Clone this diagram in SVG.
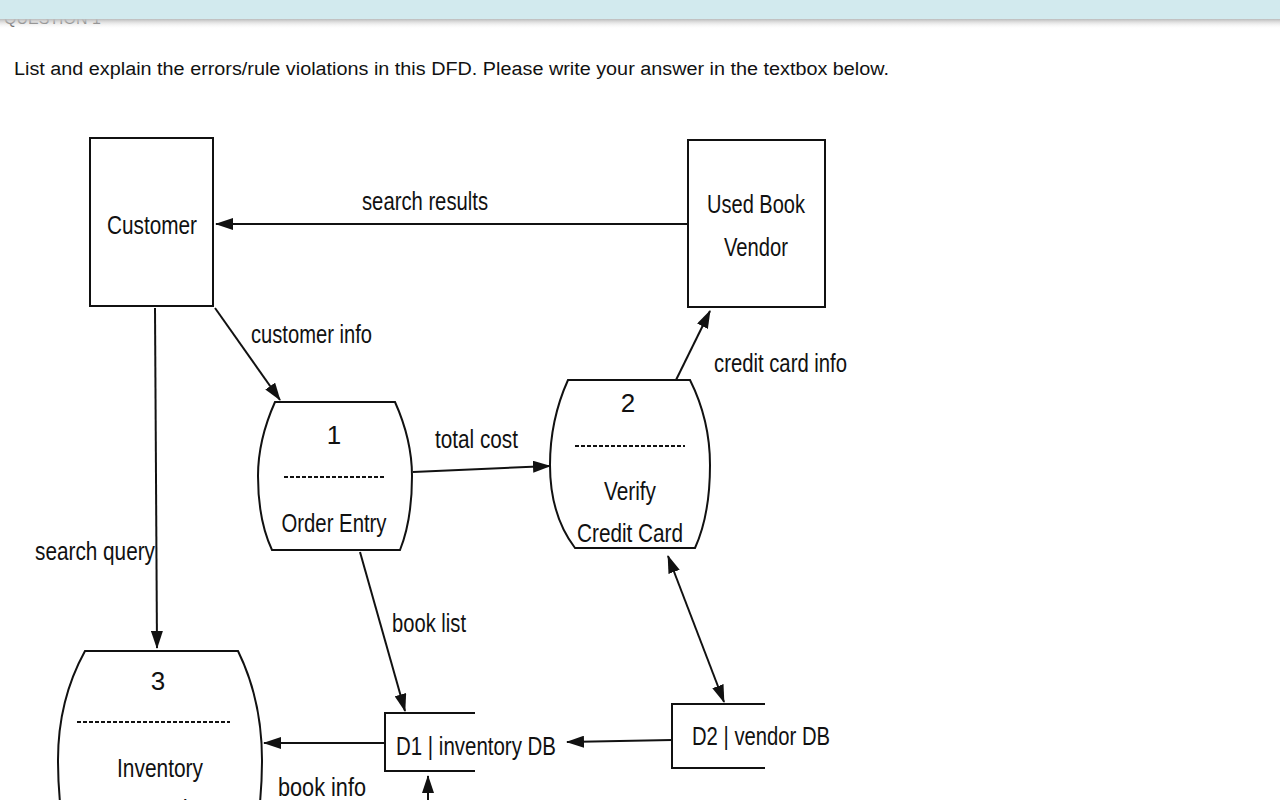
<svg xmlns="http://www.w3.org/2000/svg" width="1280" height="800" viewBox="0 0 1280 800">
<defs>
<marker id="ah" viewBox="0 0 18 12" refX="17" refY="6" markerWidth="18" markerHeight="12" markerUnits="userSpaceOnUse" orient="auto-start-reverse"><path d="M0,0 L18,6 L0,12 Z" fill="#111"/></marker>
<linearGradient id="sh" x1="0" y1="0" x2="0" y2="1"><stop offset="0" stop-color="#bbb"/><stop offset="1" stop-color="#fff" stop-opacity="0"/></linearGradient>
</defs>
<style>
.t{font-family:"Liberation Sans",Arial,sans-serif;fill:#111;font-size:26px}
.n{fill:none;stroke:#111;stroke-width:2}
.c{fill:none;stroke:#111;stroke-width:2}
</style>
<rect width="1280" height="800" fill="#fff"/>
<text x="4" y="24" font-family="Liberation Sans,Arial,sans-serif" font-size="16" fill="#444">QUESTION 1</text>
<rect x="0" y="0" width="1280" height="19" fill="#d2eaee"/>
<rect x="0" y="19" width="1280" height="10" fill="url(#sh)"/>
<text x="14" y="75" font-family="Liberation Sans,Arial,sans-serif" font-size="18" fill="#111" textLength="875" lengthAdjust="spacingAndGlyphs">List and explain the errors/rule violations in this DFD. Please write your answer in the textbox below.</text>

<g id="connectors">
<line class="c" x1="688" y1="224" x2="216" y2="224" marker-end="url(#ah)"/>
<line class="c" x1="215" y1="308" x2="280" y2="400" marker-end="url(#ah)"/>
<line class="c" x1="155" y1="308" x2="157" y2="648" marker-end="url(#ah)"/>
<line class="c" x1="413" y1="472" x2="550" y2="466" marker-end="url(#ah)"/>
<line class="c" x1="676" y1="380" x2="710" y2="311" marker-end="url(#ah)"/>
<line class="c" x1="360" y1="552" x2="405" y2="711" marker-end="url(#ah)"/>
<line class="c" x1="668" y1="556" x2="724" y2="702" marker-start="url(#ah)" marker-end="url(#ah)"/>
<line class="c" x1="672" y1="740" x2="567" y2="742" marker-end="url(#ah)"/>
<line class="c" x1="385" y1="743" x2="264" y2="743" marker-end="url(#ah)"/>
<line class="c" x1="428" y1="805" x2="428" y2="776" marker-end="url(#ah)"/>
<text class="t" x="362" y="210" textLength="126" lengthAdjust="spacingAndGlyphs">search results</text>
<text class="t" x="251" y="343" textLength="121" lengthAdjust="spacingAndGlyphs">customer info</text>
<text class="t" x="35" y="560" textLength="120" lengthAdjust="spacingAndGlyphs">search query</text>
<text class="t" x="435" y="448" textLength="83" lengthAdjust="spacingAndGlyphs">total cost</text>
<text class="t" x="714" y="372" textLength="133" lengthAdjust="spacingAndGlyphs">credit card info</text>
<text class="t" x="392" y="632" textLength="74" lengthAdjust="spacingAndGlyphs">book list</text>
<text class="t" x="278" y="796" textLength="88" lengthAdjust="spacingAndGlyphs">book  info</text>
</g>

<g id="customer">
<rect class="n" x="90" y="138" width="123" height="168"/>
<text class="t" x="152" y="234" text-anchor="middle" textLength="90" lengthAdjust="spacingAndGlyphs">Customer</text>
</g>
<g id="vendor">
<rect class="n" x="688" y="140" width="137" height="167"/>
<text class="t" x="756" y="213" text-anchor="middle" textLength="98" lengthAdjust="spacingAndGlyphs">Used Book</text>
<text class="t" x="756" y="256" text-anchor="middle" textLength="64" lengthAdjust="spacingAndGlyphs">Vendor</text>
</g>
<g id="p1">
<path class="n" d="M275,402 L395,402 Q412,440 412,476 Q412,520 400,550 L272,550 Q258,520 258,476 Q258,440 275,402 Z"/>
<text class="t" x="334" y="444" text-anchor="middle">1</text>
<line x1="284" y1="477" x2="384" y2="477" stroke="#111" stroke-width="2" stroke-dasharray="4,2"/>
<text class="t" x="334" y="532" text-anchor="middle" textLength="105" lengthAdjust="spacingAndGlyphs">Order Entry</text>
</g>
<g id="p2">
<path class="n" d="M568,380 L690,380 Q710,420 710,465 Q710,515 695,548 L575,548 Q550,515 550,465 Q550,420 568,380 Z"/>
<text class="t" x="628" y="412" text-anchor="middle">2</text>
<line x1="575" y1="446" x2="685" y2="446" stroke="#111" stroke-width="2" stroke-dasharray="4,2"/>
<text class="t" x="630" y="500" text-anchor="middle" textLength="52" lengthAdjust="spacingAndGlyphs">Verify</text>
<text class="t" x="630" y="542" text-anchor="middle" textLength="106" lengthAdjust="spacingAndGlyphs">Credit Card</text>
</g>
<g id="p3">
<path class="n" d="M85,651 L238,651 Q262,700 262,760 Q262,790 258,820 L62,820 Q58,790 58,760 Q58,700 85,651 Z"/>
<text class="t" x="158" y="690" text-anchor="middle">3</text>
<line x1="77" y1="722" x2="230" y2="722" stroke="#111" stroke-width="2" stroke-dasharray="4,2"/>
<text class="t" x="160" y="777" text-anchor="middle" textLength="86" lengthAdjust="spacingAndGlyphs">Inventory</text>
<text class="t" x="160" y="818" text-anchor="middle" textLength="70" lengthAdjust="spacingAndGlyphs">Search</text>
</g>
<g id="d1">
<path class="n" d="M475,713 L385,713 L385,771 L475,771"/>
<text class="t" x="396" y="755" textLength="160" lengthAdjust="spacingAndGlyphs">D1 | inventory DB</text>
</g>
<g id="d2">
<path class="n" d="M765,704 L672,704 L672,768 L765,768"/>
<text class="t" x="692" y="745" textLength="138" lengthAdjust="spacingAndGlyphs">D2 | vendor DB</text>
</g>
</svg>
